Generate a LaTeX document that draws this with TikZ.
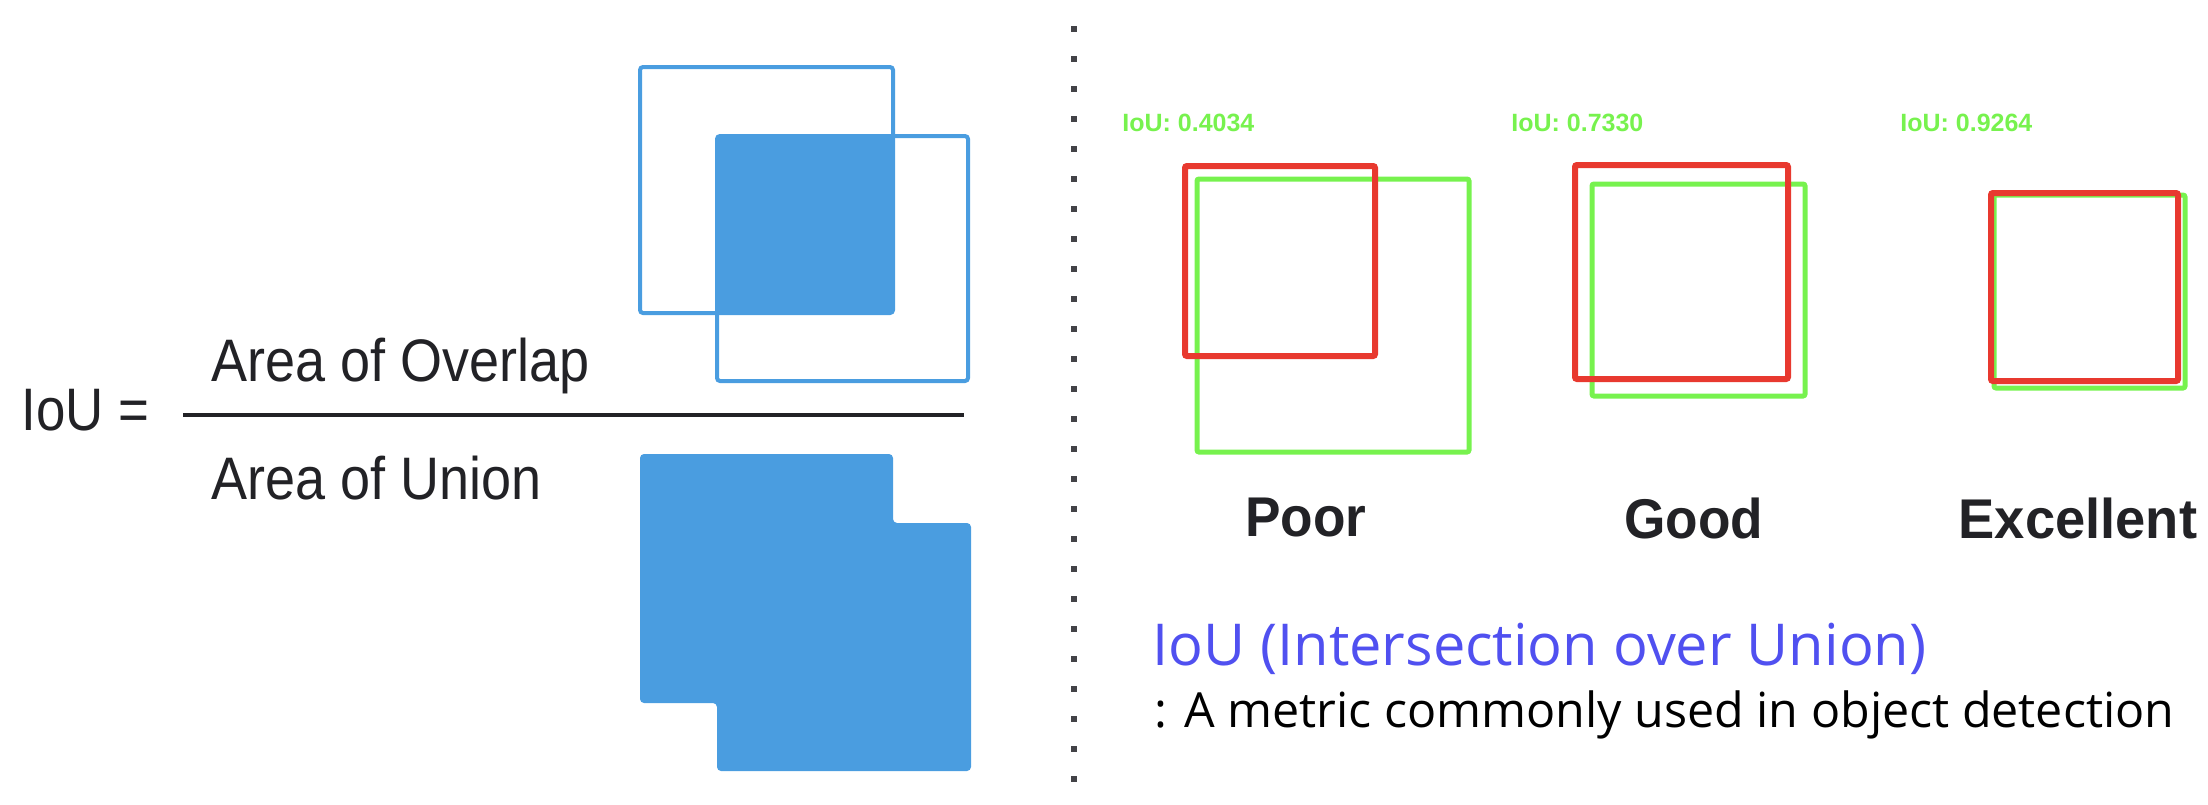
\documentclass[tikz,border=0pt]{standalone}
\usepackage{fontspec}
\setmainfont{Liberation Sans}
\newfontfamily\titlefont{Open Sans}
\definecolor{bl}{HTML}{4A9DE0}
\definecolor{rd}{HTML}{E8392F}
\definecolor{gr}{HTML}{77F24E}
\definecolor{tt}{HTML}{5050F0}
\definecolor{tx}{HTML}{222226}
\begin{document}
\begin{tikzpicture}[x=0.5pt,y=-0.5pt,
  outl/.style={draw=bl,line width=2pt,rounded corners=1.5pt},
  fl/.style={fill=bl,rounded corners=2pt},
  rbox/.style={draw=rd,line width=3pt,rounded corners=1pt},
  gbox/.style={draw=gr,line width=2.5pt,rounded corners=1pt},
  lbl/.style={inner sep=0pt,anchor=west,text=tx,font=\fontsize{30}{34}\selectfont},
  iou/.style={inner sep=0pt,anchor=west,text=gr,font=\bfseries\fontsize{12.5}{14}\selectfont},
  qual/.style={inner sep=0pt,text=tx,font=\bfseries\fontsize{28}{32}\selectfont}]
\useasboundingbox (0,0) rectangle (2208,804);
% left: overlap
\path[fl] (717,136) rectangle (893,313);
\draw[outl] (640,67) rectangle (893,313);
\draw[outl] (717,136) rectangle (968,381);
% fraction
\node[lbl] (iou) at (21,410) {\scalebox{0.88}[1]{IoU =}};
\node[lbl,anchor=base west] (num) at (211,381) {\scalebox{0.9}[1]{Area of Overlap}};
\node[lbl,anchor=base west] (den) at (211,499) {\scalebox{0.9}[1]{Area of Union}};
\coordinate (fa) at (183,415); \coordinate (fb) at (964,415);
\draw[tx,line width=2pt] (fa) -- (fb);
% union
\path[fl] (640,454) -- (893,454) -- (893,523) -- (971,523) -- (971,771) -- (717,771) -- (717,703) -- (640,703) -- cycle;
% dotted separator
\coordinate (d1) at (1074,26); \coordinate (d2) at (1074,785);
\draw[tx!85,line width=3pt,dash pattern=on 3pt off 12pt] (d1) -- (d2);
% boxes
\draw[gbox] (1197,179) rectangle (1469,452);
\draw[rbox] (1185,166) rectangle (1375,356);
\draw[gbox] (1592,184) rectangle (1805,396);
\draw[rbox] (1575,165) rectangle (1788,379);
\draw[gbox] (1994,195) rectangle (2185,388);
\draw[rbox] (1991,193) rectangle (2178,381);
\node[iou] (i1) at (1122,123) {IoU:\ 0.4034};
\node[iou] (i2) at (1511,123) {IoU:\ 0.7330};
\node[iou] (i3) at (1900,123) {IoU:\ 0.9264};
\node[qual] (p) at (1306,518) {\scalebox{0.95}[1]{Poor}};
\node[qual] (g) at (1694,518) {\scalebox{0.95}[1]{Good}};
\node[qual] (e) at (2078,518) {\scalebox{0.97}[1]{Excellent}};
% title
\node[inner sep=0pt,anchor=base west,text=tt,font=\titlefont\fontsize{26}{30}\selectfont] (t1) at (1152,665) {\resizebox{387pt}{!}{IoU (Intersection over Union)}};
\node[inner sep=0pt,anchor=base west,text=black,font=\titlefont\fontsize{20}{24}\selectfont] (t2) at (1154,727) {\resizebox{510pt}{!}{: A metric commonly used in object detection}};
\end{tikzpicture}
\end{document}
